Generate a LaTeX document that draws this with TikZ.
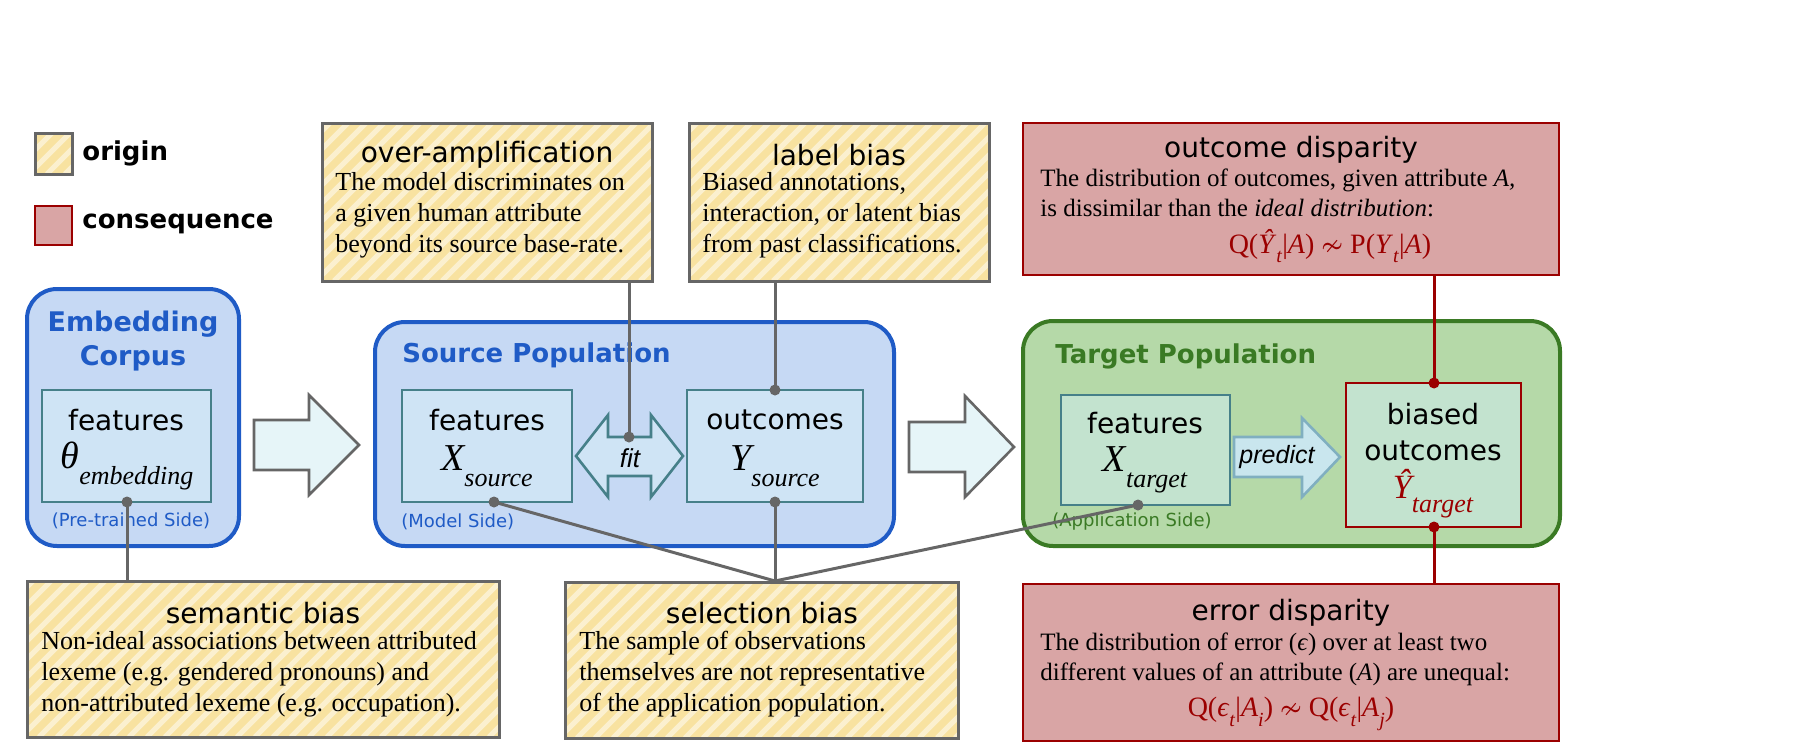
\documentclass[tikz,border=0pt]{standalone}
\usepackage{fontspec}
\usepackage{amssymb}
\setmainfont{Liberation Serif}
\newfontfamily\dvs{DejaVu Sans}
\newfontfamily\lsans{Liberation Sans}
\definecolor{bfill}{HTML}{C6D9F4}
\definecolor{bline}{HTML}{1F5BC6}
\definecolor{ifill}{HTML}{CFE4F5}
\definecolor{iline}{HTML}{468089}
\definecolor{gfill}{HTML}{B5D9A8}
\definecolor{gline}{HTML}{3A7A24}
\definecolor{gin}{HTML}{C3E3CF}
\definecolor{rfill}{HTML}{D9A5A5}
\definecolor{rline}{HTML}{9B0000}
\definecolor{yfill}{HTML}{F8E2A0}
\definecolor{gline2}{HTML}{666666}
\definecolor{afill}{HTML}{E6F5F8}
\definecolor{pfill}{HTML}{C9E6EE}
\definecolor{pline}{HTML}{80AFC0}
\newcommand{\lowsub}[1]{\raisebox{-0.42em}{\fontsize{13}{13}\selectfont\textit{#1}}}
\newcommand{\tsub}[1]{\raisebox{-0.35em}{\fontsize{10}{10}\selectfont\textit{#1}}}
\tikzset{
  every node/.style={inner sep=0pt},
  origin/.style={draw=gline2,line width=1.5pt,fill=yfill,
    path picture={\foreach \k in {0,...,70}{\draw[white,opacity=0.5,line width=2.5pt]
      ([xshift=\k*9pt-300pt]path picture bounding box.south west) -- ++(300pt,300pt);}}},
  conseq/.style={draw=rline,line width=1.3pt,fill=rfill},
  group/.style={rounded corners=15pt,line width=2pt},
  inner/.style={draw=iline,line width=1.3pt,fill=ifill},
  ttl/.style={font=\dvs\fontsize{14}{16}\selectfont},
  body/.style={font=\fontsize{13}{15.5}\selectfont,align=left,anchor=north west},
  cbody/.style={font=\fontsize{12.5}{15}\selectfont,align=left,anchor=north west},
  gttl/.style={font=\dvs\bfseries\fontsize{13}{15}\selectfont},
  side/.style={font=\dvs\fontsize{9}{10}\selectfont},
  bigarrow/.style={draw=gline2,line width=1.3pt,fill=afill},
  conn/.style={draw=gline2,line width=1.5pt},
  rconn/.style={draw=rline,line width=1.5pt},
  dot/.style={circle,fill=gline2,minimum size=5.5pt},
  rdot/.style={circle,fill=rline,minimum size=5.5pt},
  var/.style={font=\fontsize{19}{19}\selectfont\itshape},
  formula/.style={font=\fontsize{14}{16}\selectfont,text=rline},
}
\begin{document}
\begin{tikzpicture}[x=0.5pt,y=-0.5pt]
\useasboundingbox (0,0) rectangle (1816,755);
% legend
\path[origin] (35,133) rectangle (72,174);
\node[anchor=west,font=\dvs\bfseries\fontsize{13}{15}\selectfont] (lo) at (82,153) {origin};
\path[conseq] (35,206) rectangle (72,245);
\node[anchor=west,font=\dvs\bfseries\fontsize{13}{15}\selectfont] (lc) at (82,224) {consequence};

% groups
\path[group,draw=bline,fill=bfill] (27,289) rectangle (239,546);
\path[group,draw=bline,fill=bfill] (375,322) rectangle (894,546);
\path[group,draw=gline,fill=gfill] (1023,321) rectangle (1560,546);
\node[gttl,text=bline,align=center,font=\dvs\bfseries\fontsize{13.5}{17}\selectfont] (embt) at (133,341) {Embedding\\Corpus};
\node[gttl,text=bline,anchor=west] (srct) at (402,355) {Source Population};
\node[gttl,text=gline,anchor=west] (tgtt) at (1055,356) {Target Population};
\node[side,text=bline] (pts) at (131,521) {(Pre-trained Side)};
\node[side,text=bline,anchor=west] (ms) at (401,522) {(Model Side)};
\node[side,text=gline,anchor=west] (as) at (1052,522) {(Application Side)};

% inner boxes
\node[inner,minimum width=84.5pt,minimum height=56pt] (ef) at (126.5,446) {};
\node[inner,minimum width=85pt,minimum height=56pt] (sf) at (487,446) {};
\node[inner,minimum width=88pt,minimum height=56pt] (so) at (775,446) {};
\node[inner,draw=iline,fill=gin,minimum width=84.5pt,minimum height=55pt] (tf) at (1145.5,450) {};
\node[draw=rline,line width=1.3pt,fill=gin,minimum width=87.5pt,minimum height=72pt] (bo) at (1433.5,455) {};
\node[ttl] at (126,420) {features};
\node[ttl] at (487,420) {features};
\node[ttl] at (775,420) {outcomes};
\node[ttl] at (1145,423) {features};
\node[ttl,align=center,font=\dvs\fontsize{14}{18}\selectfont] at (1433,432) {biased\\outcomes};
\node[var] at (127,466) {θ\lowsub{embedding}};
\node[var] at (487,466) {X\lowsub{source}};
\node[var] at (775,466) {Y\lowsub{source}};
\node[var] at (1145,470) {X\lowsub{target}};
\node[var,text=rline,font=\fontsize{17}{17}\selectfont\itshape] at (1433,494) {\^Y\lowsub{target}};

% big arrows
\path[bigarrow] (254,420) -- (309,420) -- (309,395) -- (359,445) -- (309,495) -- (309,470) -- (254,470) -- cycle;
\path[bigarrow] (909,422) -- (965,422) -- (965,396) -- (1014,447) -- (965,497) -- (965,472) -- (909,472) -- cycle;
% fit double arrow
\path[draw=iline,line width=1.3pt,fill=ifill] (576,456) -- (608,415) -- (608,437) -- (651,437) -- (651,415) -- (683,456) -- (651,497) -- (651,476) -- (608,476) -- (608,497) -- cycle;
\node[font=\lsans\itshape\fontsize{13}{13}\selectfont] (fit) at (630,458) {fit};
% predict
\path[draw=pline,line width=1.3pt,fill=pfill] (1234,437) -- (1302,437) -- (1302,418) -- (1340,457) -- (1302,497) -- (1302,477) -- (1234,477) -- cycle;
\node[font=\lsans\itshape\fontsize{12.5}{13}\selectfont] (pred) at (1277,457) {predict};

% origin boxes
\node[origin,minimum width=165pt,minimum height=79pt] (oa) at (487,202) {};
\node[ttl] at (487,155) {over-amplification};
\node[body] at (335,172) {The model discriminates on\\a given human attribute\\beyond its source base-rate.};
\node[origin,minimum width=150pt,minimum height=79pt] (lb) at (839,202) {};
\node[ttl] at (839,155) {label bias};
\node[body] at (702,172) {Biased annotations,\\interaction, or latent bias\\from past classifications.};
\node[origin,minimum width=236pt,minimum height=78pt] (sb) at (263,659) {};
\node[ttl] at (263,613) {semantic bias};
\node[body] at (41,631) {Non-ideal associations between attributed\\lexeme (e.g. gendered pronouns) and\\non-attributed lexeme (e.g. occupation).};
\node[origin,minimum width=196.5pt,minimum height=78pt] (selb) at (761.5,660) {};
\node[ttl] at (762,613) {selection bias};
\node[body] at (579,631) {The sample of observations\\themselves are not representative\\of the application population.};

% consequence boxes
\node[conseq,minimum width=268pt,minimum height=76pt] (od) at (1291,199) {};
\node[ttl] at (1291,150) {outcome disparity};
\node[cbody] at (1040,168) {The distribution of outcomes, given attribute \textit{A,}\\is dissimilar than the \textit{ideal distribution}:};
\node[formula] at (1330,246) {Q(\textit{\^Y}\tsub{t}|\textit{A}) $\nsim$ P(\textit{Y}\tsub{t}|\textit{A})};
\node[conseq,minimum width=268pt,minimum height=78.5pt] (ed) at (1291,662.5) {};
\node[ttl] at (1291,613) {error disparity};
\node[cbody] at (1040,632) {The distribution of error (\textit{ϵ}) over at least two\\different values of an attribute (\textit{A}) are unequal:};
\node[formula] at (1291,714) {Q(\textit{ϵ}\tsub{t}|\textit{A}\tsub{i}) $\nsim$ Q(\textit{ϵ}\tsub{t}|\textit{A}\tsub{j})};

% connectors
\coordinate (fd) at (629,437);
\coordinate (jn) at (775,581);
\node[dot] (d1) at (127,502) {};
\node[dot] (d2) at (494,502) {};
\node[dot] (d3) at (775,502) {};
\node[dot] (d4) at (775,390) {};
\node[dot] (d5) at (fd) {};
\node[dot] (d6) at (1138,505) {};
\node[rdot] (r1) at (1434,383) {};
\node[rdot] (r2) at (1434,527) {};
\draw[conn] (d1.center) -- (d1.center |- sb.north);
\draw[conn] (d5.center) -- (d5.center |- oa.south);
\draw[conn] (d4.center) -- (d4.center |- lb.south);
\draw[conn] (d2.center) -- (jn) -- (d6.center);
\draw[conn] (d3.center) -- (jn);
\draw[rconn] (r1.center) -- (r1.center |- od.south);
\draw[rconn] (r2.center) -- (r2.center |- ed.north);
\end{tikzpicture}
\end{document}
